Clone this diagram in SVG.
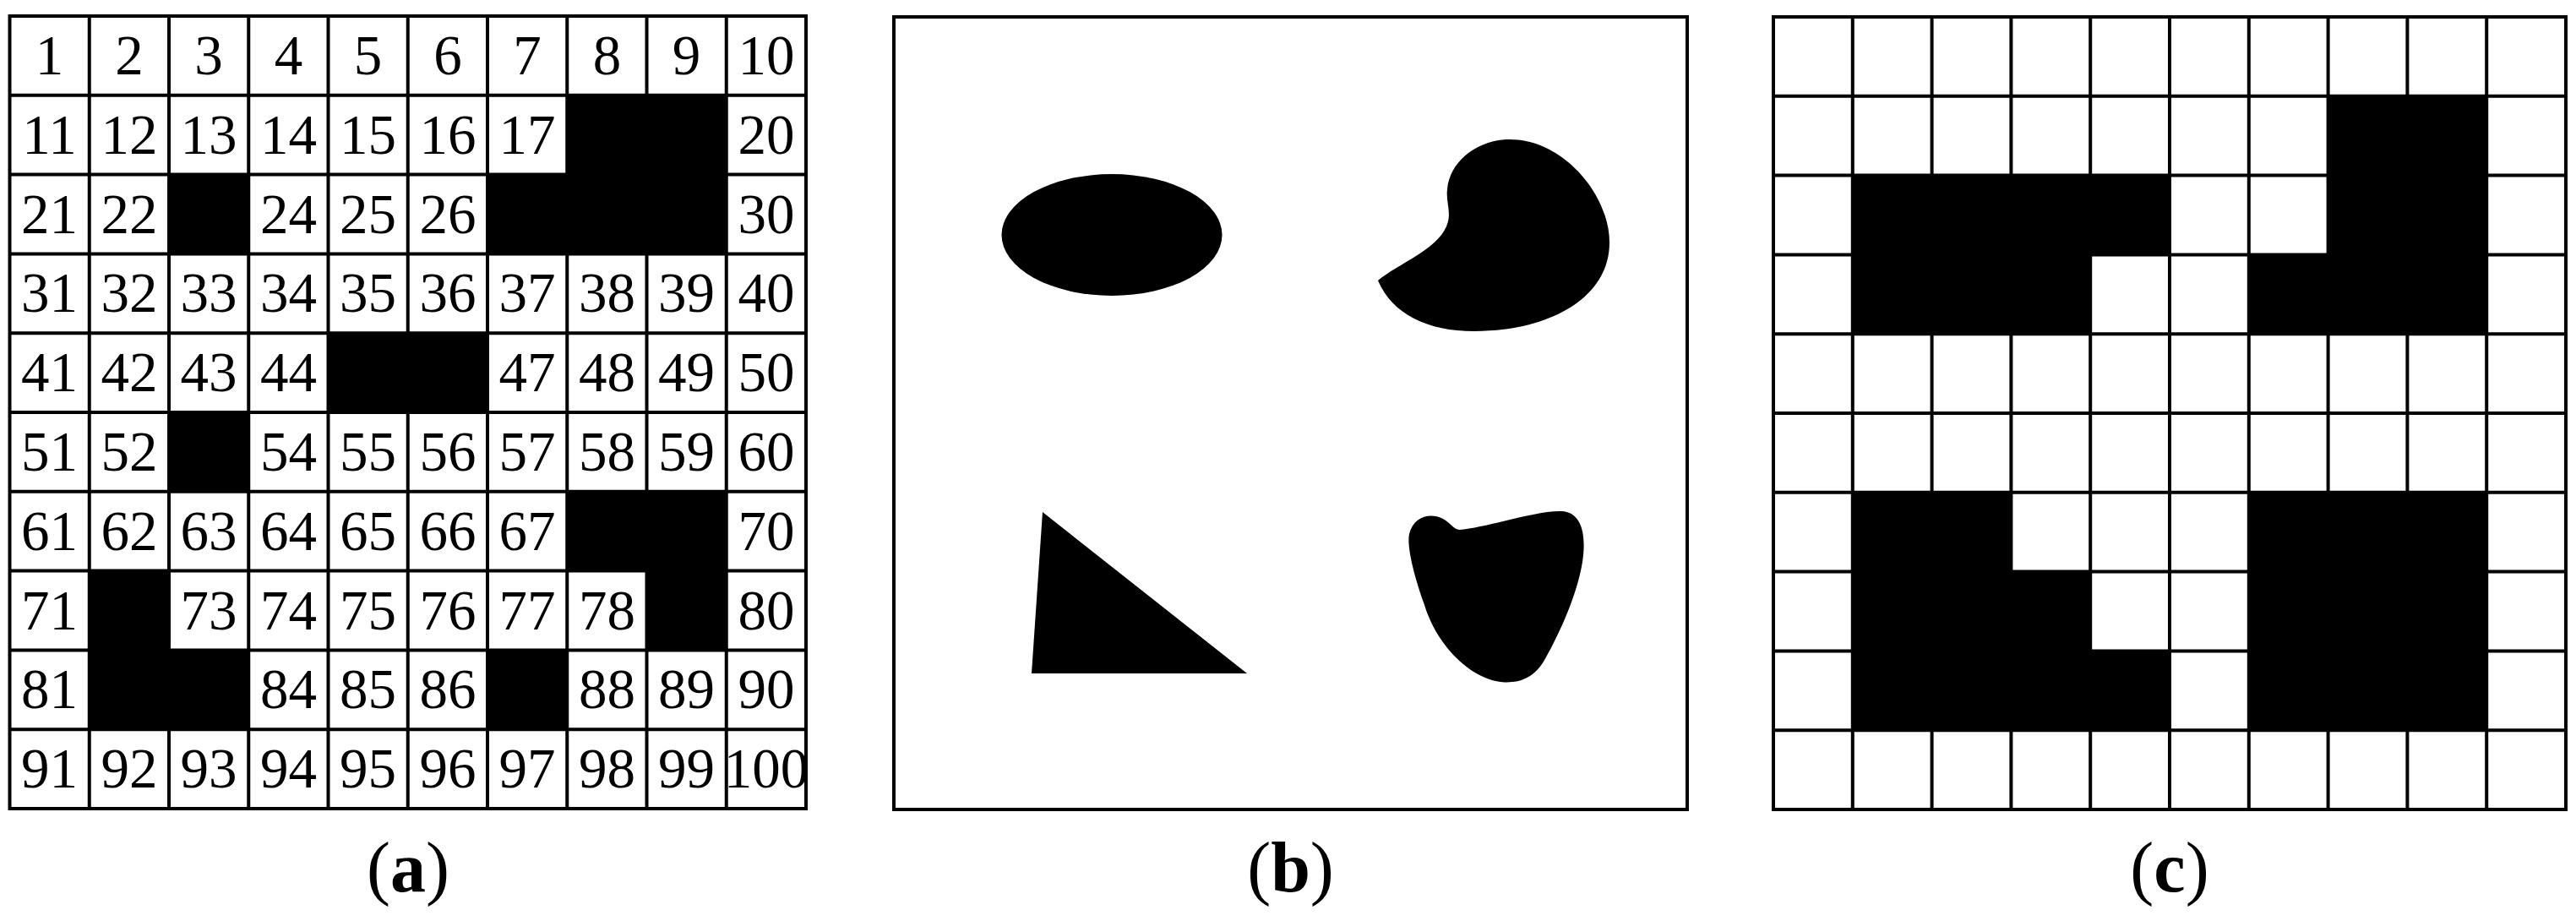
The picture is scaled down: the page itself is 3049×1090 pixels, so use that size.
<svg xmlns="http://www.w3.org/2000/svg" width="3049" height="1090" viewBox="0 0 3049 1090">
<style>
.ln{stroke:#000;stroke-width:4;fill:none}
.blk{fill:#000}
.num{font-family:"Liberation Serif","Times New Roman",serif;font-size:67px;fill:#000;text-anchor:middle}
.lbl{font-family:"Liberation Serif","Times New Roman",serif;font-size:84px;fill:#000;text-anchor:middle}
</style>
<rect width="3049" height="1090" fill="#fff"/>
<g id="panel-a">
<g id="a-black" class="blk">
<rect x="671.25" y="112.8" width="188.5" height="93.8"/>
<rect x="200" y="206.6" width="94.25" height="93.8"/>
<rect x="577" y="206.6" width="282.75" height="93.8"/>
<rect x="388.5" y="394.2" width="188.5" height="93.8"/>
<rect x="200" y="488" width="94.25" height="93.8"/>
<rect x="765.5" y="581.8" width="94.25" height="187.6"/>
<rect x="671.25" y="581.8" width="94.25" height="93.8"/>
<rect x="105.75" y="675.6" width="94.25" height="187.6"/>
<rect x="200" y="769.4" width="94.25" height="93.8"/>
<rect x="577" y="769.4" width="94.25" height="93.8"/>
</g>
<path class="ln" d="M105.75 19V957M200 19V957M294.25 19V957M388.5 19V957M482.75 19V957M577 19V957M671.25 19V957M765.5 19V957M859.75 19V957M11.5 112.8H954M11.5 206.6H954M11.5 300.4H954M11.5 394.2H954M11.5 488H954M11.5 581.8H954M11.5 675.6H954M11.5 769.4H954M11.5 863.2H954"/>
<rect class="ln" x="11.5" y="19" width="942.5" height="938"/>
<g id="a-numbers" class="num">
<text y="87.9"><tspan x="58.6">1</tspan><tspan x="152.9">2</tspan><tspan x="247.1">3</tspan><tspan x="341.4">4</tspan><tspan x="435.6">5</tspan><tspan x="529.9">6</tspan><tspan x="624.1">7</tspan><tspan x="718.4">8</tspan><tspan x="812.6">9</tspan><tspan x="906.9">10</tspan></text>
<text y="181.7"><tspan x="58.6">11</tspan><tspan x="152.9">12</tspan><tspan x="247.1">13</tspan><tspan x="341.4">14</tspan><tspan x="435.6">15</tspan><tspan x="529.9">16</tspan><tspan x="624.1">17</tspan><tspan x="906.9">20</tspan></text>
<text y="275.5"><tspan x="58.6">21</tspan><tspan x="152.9">22</tspan><tspan x="341.4">24</tspan><tspan x="435.6">25</tspan><tspan x="529.9">26</tspan><tspan x="906.9">30</tspan></text>
<text y="369.3"><tspan x="58.6">31</tspan><tspan x="152.9">32</tspan><tspan x="247.1">33</tspan><tspan x="341.4">34</tspan><tspan x="435.6">35</tspan><tspan x="529.9">36</tspan><tspan x="624.1">37</tspan><tspan x="718.4">38</tspan><tspan x="812.6">39</tspan><tspan x="906.9">40</tspan></text>
<text y="463.1"><tspan x="58.6">41</tspan><tspan x="152.9">42</tspan><tspan x="247.1">43</tspan><tspan x="341.4">44</tspan><tspan x="624.1">47</tspan><tspan x="718.4">48</tspan><tspan x="812.6">49</tspan><tspan x="906.9">50</tspan></text>
<text y="556.9"><tspan x="58.6">51</tspan><tspan x="152.9">52</tspan><tspan x="341.4">54</tspan><tspan x="435.6">55</tspan><tspan x="529.9">56</tspan><tspan x="624.1">57</tspan><tspan x="718.4">58</tspan><tspan x="812.6">59</tspan><tspan x="906.9">60</tspan></text>
<text y="650.7"><tspan x="58.6">61</tspan><tspan x="152.9">62</tspan><tspan x="247.1">63</tspan><tspan x="341.4">64</tspan><tspan x="435.6">65</tspan><tspan x="529.9">66</tspan><tspan x="624.1">67</tspan><tspan x="906.9">70</tspan></text>
<text y="744.5"><tspan x="58.6">71</tspan><tspan x="247.1">73</tspan><tspan x="341.4">74</tspan><tspan x="435.6">75</tspan><tspan x="529.9">76</tspan><tspan x="624.1">77</tspan><tspan x="718.4">78</tspan><tspan x="906.9">80</tspan></text>
<text y="838.3"><tspan x="58.6">81</tspan><tspan x="341.4">84</tspan><tspan x="435.6">85</tspan><tspan x="529.9">86</tspan><tspan x="718.4">88</tspan><tspan x="812.6">89</tspan><tspan x="906.9">90</tspan></text>
<text y="932.1"><tspan x="58.6">91</tspan><tspan x="152.9">92</tspan><tspan x="247.1">93</tspan><tspan x="341.4">94</tspan><tspan x="435.6">95</tspan><tspan x="529.9">96</tspan><tspan x="624.1">97</tspan><tspan x="718.4">98</tspan><tspan x="812.6">99</tspan><tspan x="906.9">100</tspan></text>
</g>
<text class="lbl" x="483" y="1055">(<tspan font-weight="bold">a</tspan>)</text>
</g>
<g id="panel-b">
<rect class="ln" x="1058" y="20" width="939" height="938"/>
<ellipse id="shape-ellipse" class="blk" cx="1316" cy="278" rx="130.5" ry="72"/>
<path id="shape-kidney" class="blk" d="M1631 332C1655 312 1700 296 1712 268C1719 252 1711 240 1713 224C1716 190 1750 165 1787 165C1850 165 1905 230 1905 287C1905 355 1830 392 1745 392C1690 392 1648 372 1631 332Z"/>
<polygon id="shape-triangle" class="blk" points="1234,606 1221,797 1476,797"/>
<path id="shape-blob" class="blk" d="M1727 627C1762 624 1818 604 1848 605C1872 606 1878 632 1873 665C1866 708 1843 755 1827 783C1814 804 1796 809 1776 807C1738 802 1700 762 1686 716C1673 680 1665 646 1668 632C1673 612 1692 606 1708 614C1717 619 1720 626 1727 627Z"/>
<text class="lbl" x="1527.5" y="1055">(<tspan font-weight="bold">b</tspan>)</text>
</g>
<g id="panel-c">
<g id="c-black" class="blk">
<rect x="2755.6" y="113.8" width="187.6" height="187.6"/>
<rect x="2192.8" y="207.6" width="375.2" height="93.8"/>
<rect x="2192.8" y="301.4" width="281.4" height="93.8"/>
<rect x="2661.8" y="301.4" width="281.4" height="93.8"/>
<rect x="2192.8" y="582.8" width="187.6" height="93.8"/>
<rect x="2192.8" y="676.6" width="281.4" height="93.8"/>
<rect x="2192.8" y="770.4" width="375.2" height="93.8"/>
<rect x="2661.8" y="582.8" width="281.4" height="281.4"/>
</g>
<path class="ln" d="M2192.8 20V958M2286.6 20V958M2380.4 20V958M2474.2 20V958M2568 20V958M2661.8 20V958M2755.6 20V958M2849.4 20V958M2943.2 20V958M2099 113.8H3037M2099 207.6H3037M2099 301.4H3037M2099 395.2H3037M2099 489H3037M2099 582.8H3037M2099 676.6H3037M2099 770.4H3037M2099 864.2H3037"/>
<rect class="ln" x="2099" y="20" width="938" height="938"/>
<text class="lbl" x="2568" y="1055">(<tspan font-weight="bold">c</tspan>)</text>
</g>
</svg>
